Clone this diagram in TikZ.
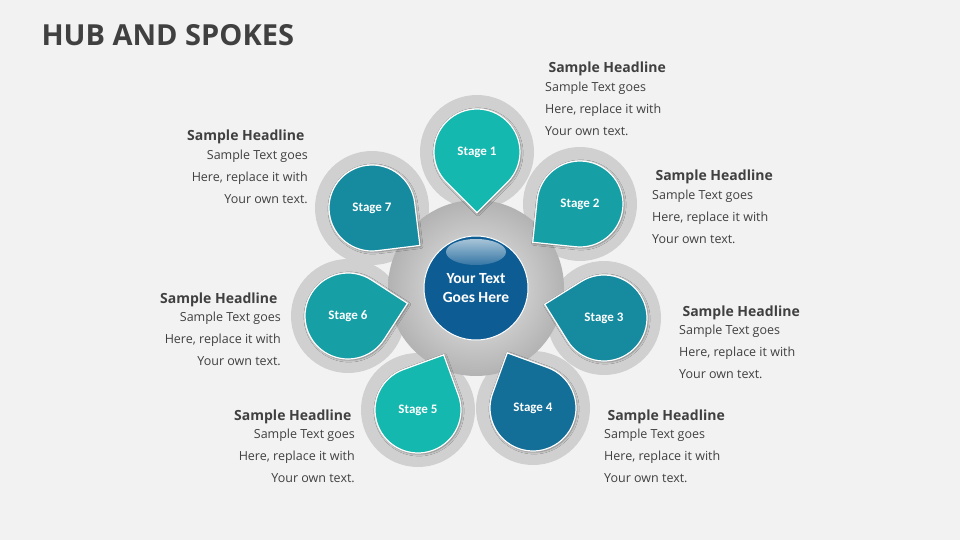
\documentclass[tikz,border=0pt]{standalone}
\usepackage{fontspec}
\setmainfont{Open Sans}
\newfontfamily\stagefont{Carlito}
\usetikzlibrary{shadows.blur}
\definecolor{bg}{HTML}{F2F2F2}
\definecolor{txt}{HTML}{404040}
\definecolor{ringc}{HTML}{D0D0D0}
\definecolor{cA}{HTML}{14B8AE}
\definecolor{cB}{HTML}{169FA5}
\definecolor{cC}{HTML}{168A9E}
\definecolor{cD}{HTML}{136E98}
\definecolor{hubblue}{HTML}{0E5C94}
\tikzset{
  ring/.style={fill=ringc},
  tear/.style={draw=white, line width=1.2pt, blur shadow={shadow blur steps=5, shadow xshift=1pt, shadow yshift=-1pt}},
  stagelbl/.style={text=white, font=\stagefont\bfseries\fontsize{13}{15}\selectfont},
  head/.style={font=\bfseries\fontsize{14}{22}\selectfont, text=txt},
  body/.style={font=\fontsize{12.5}{22}\selectfont, text=txt, align=left},
  bodyr/.style={font=\fontsize{12.5}{22}\selectfont, text=txt, align=right},
}
\newcommand\teardrop[6]{% x y angle color label name
  \begin{scope}[shift={(#1,#2)}]
    \path[tear, fill=#4] (#3+45:43) arc[start angle=#3+45, end angle=#3+315, radius=43] -- (#3:60.8) -- cycle;
    \node[stagelbl] (#6) at (0,0) {#5};
  \end{scope}}
\begin{document}
\begin{tikzpicture}[x=1pt,y=-1pt]
\fill[bg] (0,0) rectangle (960,540);
\useasboundingbox (0,0) rectangle (960,540);
\node[anchor=west, font=\bfseries\fontsize{29}{30}\selectfont, text=txt] (title) at (38,35) {HUB AND SPOKES};
% rings
\foreach \x/\y in {477/152, 580/204, 604/318, 533/408, 418/410, 348/316, 372/208}
  \fill[ring] (\x,\y) circle (57);
% hub
\shade[inner color=gray!15, outer color=gray!60] (476,288) circle (88);
\node[circle, minimum size=104pt, fill=hubblue, draw=white, line width=1pt,
      text=white, font=\stagefont\bfseries\fontsize{15.5}{19}\selectfont, align=center] (hub) at (476,288) {Your Text\\Goes Here};
\shade[top color=white!80!hubblue, bottom color=hubblue!80!white, opacity=0.8] (476,252) ellipse (30 and 13);
% teardrops
\teardrop{477}{152}{90}{cA}{Stage 1}{s1}
\teardrop{580}{204}{141}{cB}{Stage 2}{s2}
\teardrop{604}{318}{193}{cC}{Stage 3}{s3}
\teardrop{533}{408}{245}{cD}{Stage 4}{s4}
\teardrop{418}{410}{295}{cA}{Stage 5}{s5}
\teardrop{348}{316}{348}{cB}{Stage 6}{s6}
\teardrop{372}{208}{38}{cC}{Stage 7}{s7}
% texts right side
\node[head, anchor=base west] (h1) at (545,73) {Sample Headline};
\node[body, anchor=north west, inner sep=0pt] (b1) at (545,82) {Sample Text goes\\Here, replace it with\\Your own text.};
\node[head, anchor=base west] (h2) at (652,181) {Sample Headline};
\node[body, anchor=north west, inner sep=0pt] (b2) at (652,190) {Sample Text goes\\Here, replace it with\\Your own text.};
\node[head, anchor=base west] (h3) at (679,316) {Sample Headline};
\node[body, anchor=north west, inner sep=0pt] (b3) at (679,325) {Sample Text goes\\Here, replace it with\\Your own text.};
\node[head, anchor=base west] (h4) at (604,420) {Sample Headline};
\node[body, anchor=north west, inner sep=0pt] (b4) at (604,429) {Sample Text goes\\Here, replace it with\\Your own text.};
% left side
\node[head, anchor=base east] (h7) at (308,141) {Sample Headline};
\node[bodyr, anchor=north east, inner sep=0pt] (b7) at (308,150) {Sample Text goes\\Here, replace it with\\Your own text.};
\node[head, anchor=base east] (h6) at (281,303) {Sample Headline};
\node[bodyr, anchor=north east, inner sep=0pt] (b6) at (281,312) {Sample Text goes\\Here, replace it with\\Your own text.};
\node[head, anchor=base east] (h5) at (355,420) {Sample Headline};
\node[bodyr, anchor=north east, inner sep=0pt] (b5) at (355,429) {Sample Text goes\\Here, replace it with\\Your own text.};
\end{tikzpicture}
\end{document}
